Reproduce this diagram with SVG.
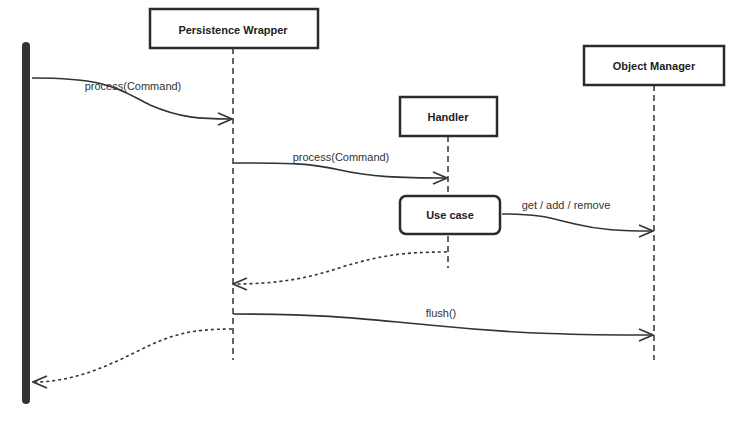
<svg xmlns="http://www.w3.org/2000/svg" width="740" height="422" viewBox="0 0 740 422">
<style>
.box{fill:#fff;stroke:#2b2b2b;stroke-width:2.5}
.lbl{font-family:"Liberation Sans",Arial,sans-serif;font-size:11px;font-weight:bold;fill:#222;text-anchor:middle}
.msg{font-family:"Liberation Sans",Arial,sans-serif;font-size:11px;fill:#333;text-anchor:middle}
.life{stroke:#333;stroke-width:1.5;stroke-dasharray:6 4;fill:none}
.c{fill:none;stroke:#333;stroke-width:1.6}
.d{fill:none;stroke:#333;stroke-width:1.6;stroke-dasharray:3 3}
</style>
<defs>
<marker id="a" viewBox="0 0 16 14" refX="15" refY="7" markerWidth="16" markerHeight="14" markerUnits="userSpaceOnUse" orient="auto">
<path d="M1,1 L15,7 L1,13" fill="none" stroke="#333" stroke-width="1.6"/>
</marker>
</defs>
<rect x="22" y="42" width="8" height="362" rx="4" fill="#333"/>
<g id="persistence-wrapper">
<line class="life" x1="233" y1="48" x2="233" y2="360"/>
<rect class="box" x="150" y="9" width="168" height="39"/>
<text class="lbl" x="233" y="34">Persistence Wrapper</text>
</g>
<g id="object-manager">
<line class="life" x1="654" y1="85" x2="654" y2="360"/>
<rect class="box" x="584" y="46" width="140" height="39"/>
<text class="lbl" x="654" y="70">Object Manager</text>
</g>
<g id="handler">
<line class="life" x1="448" y1="136" x2="448" y2="268"/>
<rect class="box" x="400" y="97" width="97" height="39"/>
<text class="lbl" x="448" y="121">Handler</text>
</g>
<g id="use-case">
<rect class="box" x="400" y="196" width="100" height="38" rx="6"/>
<text class="lbl" x="450" y="219">Use case</text>
</g>
<g id="connectors">
<path class="c" marker-end="url(#a)" d="M32,78 C110,78 120,90 150,105 C180,118 200,119 232,119"/>
<text class="msg" x="133" y="90">process(Command)</text>
<path class="c" marker-end="url(#a)" d="M233,163 C290,163 310,163 340,170 C370,177 400,178 447,178"/>
<text class="msg" x="341" y="161">process(Command)</text>
<path class="c" marker-end="url(#a)" d="M502,214 C540,214 550,218 575,224 C600,230 620,231 653,231"/>
<text class="msg" x="566" y="209">get / add / remove</text>
<path class="d" marker-end="url(#a)" d="M447,252 C400,252 380,256 345,266 C310,278 280,284 233,284"/>
<path class="c" marker-end="url(#a)" d="M233,314 C340,314 370,320 440,326 C520,334 580,335 653,335"/>
<text class="msg" x="441" y="317">flush()</text>
<path class="d" marker-end="url(#a)" d="M232,329 C190,329 170,335 140,350 C100,370 70,382 33,382"/>
</g>
</svg>
